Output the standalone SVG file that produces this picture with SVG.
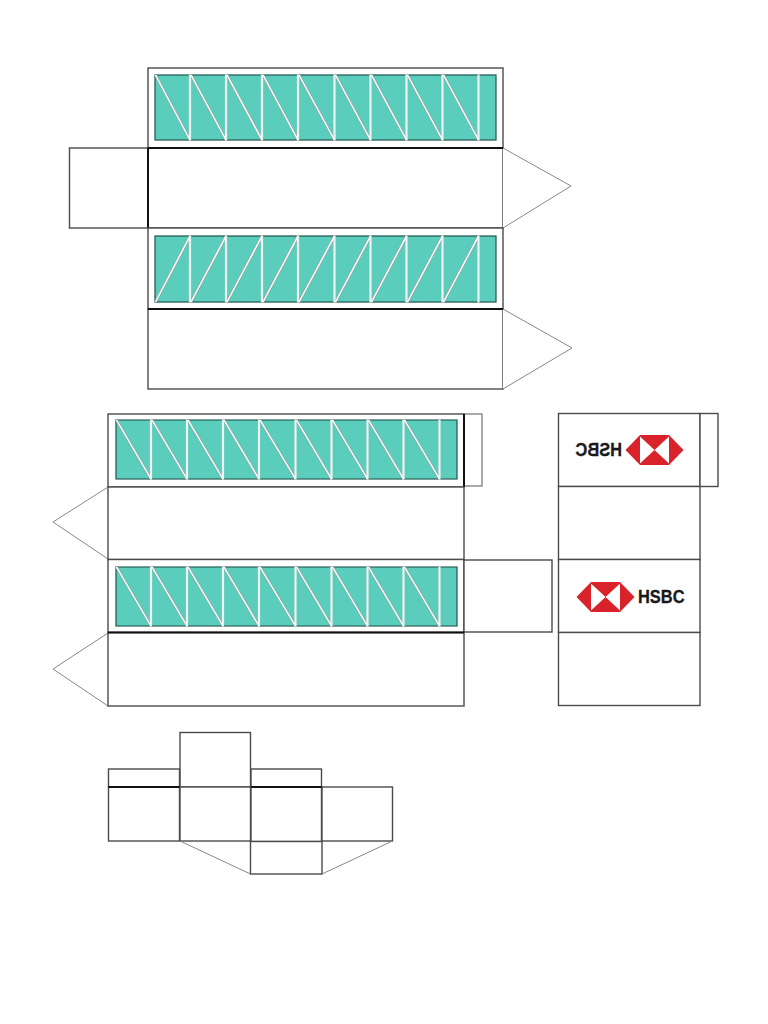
<svg xmlns="http://www.w3.org/2000/svg" width="768" height="1024" viewBox="0 0 768 1024">
<style>
.b{fill:#fff;stroke:#4a4a4a;stroke-width:1.4}
.k{fill:none;stroke:#111;stroke-width:2}
.t{fill:#fff;stroke:#888;stroke-width:1}
.d{fill:none;stroke:#fff;stroke-width:1.5}
.dh{fill:none;stroke:#8fa5a0;stroke-width:2.6}
.dv{fill:none;stroke:#f1f1f1;stroke-width:2.2}
.f{fill:#5bcdbc;stroke:#2a5f57;stroke-width:1.3}
.r{fill:#d9222a}
.w{fill:#fff}
.h{font-family:"Liberation Sans",Arial,sans-serif;font-weight:700;font-size:17.5px;fill:#1a1a1a;stroke:#1a1a1a;stroke-width:.3}
</style>
<defs>
<g id="win">
<rect class="f" x="0" y="0" width="341" height="65"/>
<path class="dh" d="M0.500 0L35 65M36 0L71 65M72 0L107 65M108 0L143 65M144 0L179.500 65M180.500 0L215.500 65M216.500 0L251.500 65M252.500 0L287.500 65M288.500 0L323.500 65"/>
<path class="dv" d="M35 -0.500V65.500M71 -0.500V65.500M107 -0.500V65.500M143 -0.500V65.500M179.500 -0.500V65.500M215.500 -0.500V65.500M251.500 -0.500V65.500M287.500 -0.500V65.500M323.500 -0.500V65.500"/>
<path class="d" d="M0.500 0L35 65M36 0L71 65M72 0L107 65M108 0L143 65M144 0L179.500 65M180.500 0L215.500 65M216.500 0L251.500 65M252.500 0L287.500 65M288.500 0L323.500 65"/>
</g>
<g id="logo">
<path class="r" d="M576.500 597L591 582H620L634.500 597L620 612H591Z"/>
<path class="w" d="M591 583.500L605.500 597L591 610.500ZM620 583.500L605.500 597L620 610.500Z"/>
<text class="h" x="638" y="603.300" textLength="46.500" lengthAdjust="spacingAndGlyphs">HSBC</text>
</g>
</defs>
<rect width="768" height="1024" fill="#fff"/>
<g id="net-a">
<rect class="b" x="148" y="68" width="355" height="80"/>
<use href="#win" x="155" y="75"/>
<rect class="b" x="69.500" y="148" width="78.500" height="80"/>
<rect class="b" x="148" y="148" width="355" height="80"/>
<path class="k" d="M148 148H503M148 148V228"/>
<path class="t" d="M503 148L571 186L503 228"/>
<rect class="b" x="148" y="228" width="355" height="81"/>
<use href="#win" transform="translate(155 302) scale(1 -1.015)"/>
<rect class="b" x="148" y="309" width="355" height="80"/>
<path class="k" d="M148 309H503"/>
<path class="t" d="M503 309L572 348L503 389"/>
</g>
<g id="net-b">
<path class="t" d="M108 487L53 522L108 559"/>
<path class="t" d="M108 633L53 669L108 706"/>
<rect class="t" x="464" y="414" width="18" height="72" style="stroke:#555"/>
<rect class="b" x="108" y="414" width="356" height="73"/>
<use href="#win" transform="translate(116 420) scale(1 .908)"/>
<path class="k" d="M464 414V487"/>
<rect class="b" x="108" y="487" width="356" height="72.500"/>
<rect class="b" x="108" y="559.500" width="356" height="73"/>
<use href="#win" transform="translate(116 567) scale(1 .908)"/>
<rect class="b" x="464" y="560" width="88" height="72"/>
<rect class="b" x="108" y="632.500" width="356" height="73.500"/>
<path class="k" d="M108 632.500H464"/>
</g>
<g id="net-c">
<rect class="b" x="558.500" y="413.500" width="141.500" height="73"/>
<use href="#logo" transform="matrix(-1 0 0 1 1260 -147)"/>
<rect class="b" x="700" y="413.500" width="18" height="73"/>
<rect class="b" x="558.500" y="486.500" width="141.500" height="73"/>
<rect class="b" x="558.500" y="559.500" width="141.500" height="73"/>
<use href="#logo"/>
<rect class="b" x="558.500" y="632.500" width="141.500" height="73"/>
</g>
<g id="net-d">
<rect class="b" x="180" y="732.500" width="70.500" height="54.500"/>
<rect class="b" x="108.500" y="769" width="71" height="18"/>
<rect class="b" x="251" y="769" width="70.500" height="18"/>
<rect class="b" x="108.500" y="787" width="71" height="54"/>
<rect class="b" x="180" y="787" width="70.500" height="54"/>
<rect class="b" x="251" y="787" width="70.500" height="54.500"/>
<rect class="b" x="322" y="787" width="70.500" height="54"/>
<rect class="b" x="250.500" y="841.500" width="71.500" height="32.500"/>
<path class="k" d="M108.500 787H179.500M251 787H321.500"/>
<path class="t" d="M180 841L250.500 874M392.500 841L322 874"/>
</g>
</svg>
